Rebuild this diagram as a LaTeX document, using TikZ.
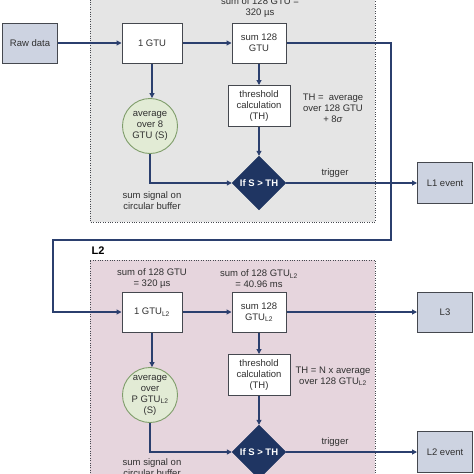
\documentclass[tikz,border=0pt]{standalone}
\usepackage{fontspec}
\setmainfont{Liberation Sans}
\usepackage{xcolor}
\usetikzlibrary{arrows.meta,positioning,shapes.geometric}
\definecolor{onavy}{HTML}{1F3562}
\definecolor{oline}{HTML}{2B3F6E}
\definecolor{oedge}{HTML}{45484F}
\definecolor{oio}{HTML}{CDD3E1}
\definecolor{ogreen}{HTML}{E2EBD5}
\definecolor{ogreenedge}{HTML}{7F9D6A}
\definecolor{opanel}{HTML}{E5E5E5}
\definecolor{opink}{HTML}{E6D5DD}
\definecolor{otext}{HTML}{303030}
\newcommand{\gtul}{GTU\textsubscript{L2}}

\begin{document}
\begin{tikzpicture}[x=1pt,y=-1pt,
  font=\fontsize{9.5}{11}\selectfont,text=otext,
  n/.style={draw=oedge,fill=white,line width=1pt,align=center,
            inner sep=2pt,minimum height=40pt},
  io/.style={n,fill=oio,minimum width=55pt},
  avg/.style={circle,draw=ogreenedge,fill=ogreen,line width=0.9pt,
              align=center,minimum size=55pt,inner sep=0pt},
  dec/.style={diamond,draw=onavy,fill=onavy,text=white,
              font=\fontsize{9.5}{11}\selectfont\bfseries,
              minimum width=54pt,minimum height=54pt,inner sep=0pt},
  lbl/.style={align=center,inner sep=0pt},
  frame/.style={draw=oedge,line width=1pt,dash pattern=on 1pt off 1.4pt},
  a/.style={-{Triangle[length=5pt,width=5pt]},draw=oline,line width=1.1pt}
]
\useasboundingbox (0,0) rectangle (474,474);
% panels
\fill[opanel] (90,-10) rectangle (375,222);
\draw[frame] (90,-10) rectangle (375,222);
\fill[opink] (90,260) rectangle (375,490);
\draw[frame] (90,490) -- (90,260) -- (375,260) -- (375,490);
\node[font=\fontsize{11}{13}\selectfont\bfseries,text=black] (lvl) at (98,251) {L2};

% L1
\node[io] (raw) at (30,43) {Raw data};
\node[n,minimum width=60pt] (gtu) at (152,43) {1 GTU};
\node[n,minimum width=54pt] (sum) at (259,43) {sum 128\\GTU};
\node[lbl] (sumlbl) at (260,8) {sum of 128 GTU =\\320 µs};
\node[n,minimum width=62pt,minimum height=41pt] (th) at (259,106) {threshold\\calculation\\(TH)};
\node[lbl] (thlbl) at (333,108) {TH =\ \ average\\over 128 GTU\\+ 8\textit{σ}};
\node[avg] (avgs) at (150,126) {average\\over 8\\GTU (S)};
\node[dec] (cmp) at (259,183) {If S > TH};
\node[io,minimum height=41pt] (ev1) at (445,183) {L1 event};
\node[lbl] (trig) at (335,173) {trigger};
\node[lbl] (buf) at (152,201) {sum signal on\\circular buffer};

% L2
\node[n,minimum width=60pt] (gtul) at (152,312) {1 \gtul};
\node[n,minimum width=54pt] (suml) at (259,312) {sum 128\\\gtul};
\node[lbl] (gtullbl) at (152,279) {sum of 128 GTU\\= 320 µs};
\node[lbl] (sumllbl) at (259,279) {sum of 128 \gtul\\= 40.96 ms};
\node[io] (ev3) at (445,312) {L3};
\node[n,minimum width=62pt,minimum height=41pt] (thl) at (259,375) {threshold\\calculation\\(TH)};
\node[lbl] (thllbl) at (333,376) {TH = N x average\\over 128 \gtul};
\node[avg,inner sep=-6pt] (avgl) at (150,395) {average\\over\\P \gtul\\(S)};
\node[dec] (cmpl) at (259,452) {If S > TH};
\node[io,minimum height=41pt] (ev2) at (445,452) {L2 event};
\node[lbl] (trigl) at (335,442) {trigger};
\node[lbl] (bufl) at (152,468) {sum signal on\\circular buffer};

\coordinate (r1) at (391,240);
\coordinate (r2) at (53,240);

\draw[a] (raw) -- (gtu);
\draw[a] (gtu) -- (sum);
\draw[a] (gtu) -- (gtu |- avgs.north);
\draw[a] (sum) -- (th);
\draw[a] (th) -- (cmp);
\draw[a] (avgs) |- (cmp);
\draw[a] (cmp) -- (ev1);
\draw[a] (sum.east) -| (r1) -- (r2) |- (gtul.west);
\draw[a] (gtul) -- (suml);
\draw[a] (suml) -- (ev3);
\draw[a] (gtul) -- (gtul |- avgl.north);
\draw[a] (suml) -- (thl);
\draw[a] (thl) -- (cmpl);
\draw[a] (avgl) |- (cmpl);
\draw[a] (cmpl) -- (ev2);
\end{tikzpicture}
\end{document}
